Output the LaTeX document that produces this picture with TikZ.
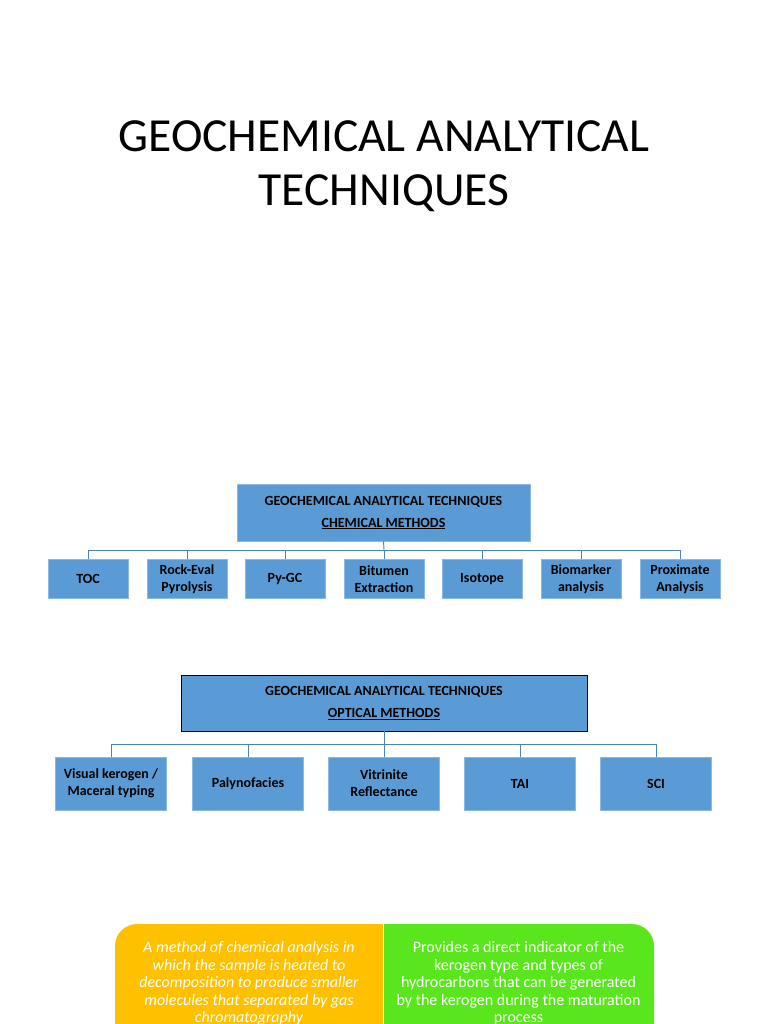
\documentclass[tikz,border=0pt]{standalone}
\usepackage{fontspec}
\setmainfont{Carlito}
\definecolor{bl}{HTML}{5B9BD5}
\definecolor{ln}{HTML}{4A83B8}
\definecolor{org}{HTML}{FFC000}
\definecolor{grn}{HTML}{5AE61C}
\begin{document}
\begin{tikzpicture}[x=1pt,y=-1pt,
 bx/.style={fill=bl,draw=bl!70!white,line width=0.8pt,font=\bfseries\fontsize{14}{17}\selectfont,align=center,inner sep=0pt},
 cn/.style={draw=ln,line width=0.9pt}]
\useasboundingbox (0,0) rectangle (768,1024);
\clip (0,0) rectangle (768,1024);
\node[font=\fontsize{47.5}{54}\selectfont,align=center] (title) at (384,166) {GEOCHEMICAL ANALYTICAL\\TECHNIQUES};
% chemical
\node[bx,minimum width=293pt,minimum height=57pt] (chem) at (383.5,512.5) {GEOCHEMICAL ANALYTICAL TECHNIQUES\\[5pt]\underline{CHEMICAL METHODS}};
\coordinate (cj) at (384,550);
\foreach \n/\x/\t in {c1/88/TOC,c2/187/{Rock-Eval\\Pyrolysis},c3/285/Py-GC,c4/384/{Bitumen\\Extraction},c5/482/Isotope,c6/581/{Biomarker\\analysis},c7/680/{Proximate\\Analysis}}{
 \node[bx,minimum width=80pt,minimum height=39pt] (\n) at (\x,579) {\t};
 \draw[cn] (\n.north) -- (\x,550);
}
\draw[cn] (chem.south) -- (cj);
\draw[cn] (88,550) -- (680,550);
% optical
\node[bx,draw=black,minimum width=406pt,minimum height=56pt] (opt) at (384,703) {GEOCHEMICAL ANALYTICAL TECHNIQUES\\[5pt]\underline{OPTICAL METHODS}};
\foreach \n/\x/\t in {o1/111/{Visual kerogen /\\Maceral typing},o2/248/Palynofacies,o3/384/{Vitrinite\\Reflectance},o4/520/TAI,o5/656/SCI}{
 \node[bx,minimum width=111pt,minimum height=53pt] (\n) at (\x,783.5) {\t};
 \draw[cn] (\n.north) -- (\x,744);
}
\draw[cn] (opt.south) -- (384,744);
\draw[cn] (111,744) -- (656,744);
% bottom
\fill[org,rounded corners=22pt] (115,1060) -- (115,924) -- (383,924) -- (383,1060);
\fill[org] (360,924) rectangle (383,1060);
\fill[grn,rounded corners=22pt] (383,1060) -- (383,924) -- (654,924) -- (654,1060);
\fill[grn] (383,924) rectangle (410,1060);
\draw[white,line width=0.8pt] (383,924) -- (383,1024);
\node[text=white,font=\itshape\fontsize{16}{17.5}\selectfont,align=center,anchor=north] (ta) at (249,938) {A method of chemical analysis in\\which the sample is heated to\\decomposition to produce smaller\\molecules that separated by gas\\chromatography};
\node[text=white,font=\fontsize{16}{17.5}\selectfont,align=center,anchor=north] (tb) at (518.5,938) {Provides a direct indicator of the\\kerogen type and types of\\hydrocarbons that can be generated\\by the kerogen during the maturation\\process};
\end{tikzpicture}
\end{document}
